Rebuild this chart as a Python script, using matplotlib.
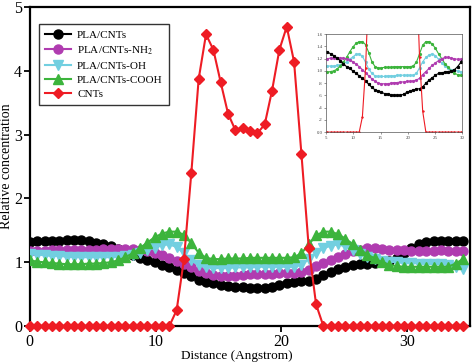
import numpy as np
import matplotlib.pyplot as plt

plt.rcParams['font.family'] = ['Liberation Serif', 'DejaVu Serif']
plt.rcParams['mathtext.fontset'] = 'stix'

# 60 sampling bins over 35 Angstrom
x = np.arange(60) * 35 / 60

pla_cnts = [1.32, 1.33, 1.33, 1.34, 1.34, 1.35, 1.35, 1.35, 1.33, 1.31,
            1.28, 1.25, 1.21, 1.17, 1.12, 1.07, 1.04, 1.00, 0.96, 0.92,
            0.88, 0.84, 0.78, 0.73, 0.69, 0.67, 0.65, 0.63, 0.62, 0.61,
            0.60, 0.60, 0.60, 0.62, 0.65, 0.67, 0.69, 0.70, 0.71, 0.74,
            0.80, 0.85, 0.89, 0.93, 0.96, 0.97, 0.98, 0.99, 1.00, 1.02,
            1.07, 1.14, 1.22, 1.29, 1.32, 1.33, 1.33, 1.33, 1.34, 1.34]

pla_nh2 = [1.18, 1.18, 1.18, 1.19, 1.19, 1.19, 1.20, 1.20, 1.20, 1.20,
           1.21, 1.21, 1.21, 1.21, 1.21, 1.20, 1.18, 1.15, 1.11, 1.07,
           1.02, 0.97, 0.92, 0.87, 0.83, 0.80, 0.79, 0.79, 0.79, 0.80,
           0.81, 0.81, 0.82, 0.82, 0.83, 0.83, 0.84, 0.85, 0.88, 0.94,
           0.99, 1.04, 1.09, 1.13, 1.17, 1.20, 1.22, 1.22, 1.21, 1.20,
           1.19, 1.19, 1.18, 1.18, 1.18, 1.18, 1.19, 1.18, 1.18, 1.18]

pla_oh = [1.13, 1.12, 1.11, 1.10, 1.10, 1.09, 1.08, 1.08, 1.08, 1.08,
          1.08, 1.08, 1.09, 1.10, 1.12, 1.15, 1.19, 1.23, 1.27, 1.28,
          1.24, 1.14, 1.03, 0.96, 0.92, 0.91, 0.91, 0.91, 0.92, 0.92,
          0.92, 0.93, 0.93, 0.93, 0.93, 0.93, 0.93, 0.96, 1.05, 1.15,
          1.22, 1.26, 1.28, 1.25, 1.19, 1.13, 1.08, 1.05, 1.02, 1.01,
          1.00, 0.99, 0.99, 0.98, 0.98, 0.97, 0.97, 0.96, 0.93, 0.90]

pla_cooh = [1.03, 1.01, 1.00, 0.99, 0.98, 0.97, 0.97, 0.97, 0.98, 0.98,
            0.99, 1.00, 1.03, 1.08, 1.14, 1.22, 1.31, 1.39, 1.45, 1.48,
            1.48, 1.43, 1.30, 1.15, 1.07, 1.05, 1.05, 1.06, 1.06, 1.06,
            1.07, 1.07, 1.07, 1.07, 1.07, 1.07, 1.08, 1.14, 1.28, 1.42,
            1.48, 1.48, 1.44, 1.37, 1.28, 1.20, 1.12, 1.06, 1.00, 0.96,
            0.94, 0.93, 0.93, 0.93, 0.93, 0.93, 0.93, 0.93, 0.98, 1.05]

cnts = [0.0] * 20 + [0.25, 1.05, 2.40, 3.87, 4.57, 4.33, 3.82, 3.33, 3.07, 3.10,
                     3.06, 3.02, 3.16, 3.69, 4.33, 4.69, 4.14, 2.70, 1.23, 0.34] + [0.0] * 20

series = [
    ('PLA/CNTs', pla_cnts, '#000000', 'o', 6.5),
    ('PLA/CNTs-NH$_2$', pla_nh2, '#b03cb0', 'o', 6.5),
    ('PLA/CNTs-OH', pla_oh, '#72cfe0', 'v', 6.5),
    ('PLA/CNTs-COOH', pla_cooh, '#3cb43c', '^', 6.5),
    ('CNTs', cnts, '#ee1c24', 'D', 5.5),
]
draw_order = [2, 3, 1, 0, 4]

fig = plt.figure(figsize=(4.74, 3.64), dpi=100)
ax = fig.add_axes([0.063, 0.104, 0.929, 0.877])

handles = [None] * 5
for k in draw_order:
    name, y, col, mk, ms = series[k]
    l, = ax.plot(x, y, color=col, marker=mk, ms=ms, lw=1.5, label=name,
                 clip_on=(k != 4), zorder=2 + k)
    handles[k] = l

ax.set_xlim(0, 35)
ax.set_ylim(0, 5)
ax.set_xticks([0, 10, 20, 30])
ax.set_yticks([0, 1, 2, 3, 4, 5])
for s in ax.spines.values():
    s.set_linewidth(1.6)
ax.tick_params(direction='out', length=4, width=1.3, labelsize=11.5, pad=1.5)
ax.set_xlabel('Distance (Angstrom)', fontsize=9.5, labelpad=0)
ax.xaxis.label.set_x(0.47)
ax.set_ylabel('Relative concentration', fontsize=10, labelpad=1)

leg = ax.legend(handles=handles, loc='upper left', bbox_to_anchor=(0.02, 0.948),
                fontsize=8, frameon=True, fancybox=False, edgecolor='black',
                borderpad=0.6, labelspacing=0.38, handlelength=2.3,
                handletextpad=0.55, borderaxespad=0)
leg.get_frame().set_linewidth(1.0)

# inset
ins = fig.add_axes([0.688, 0.637, 0.287, 0.269])
for k in draw_order:
    name, y, col, mk, ms = series[k]
    ins.plot(x, y, color=col, marker='s' if k == 0 else ('+' if k == 4 else 'o'),
             ms=1.3, lw=0.8)
ins.set_xlim(5, 30)
ins.set_ylim(0, 1.6)
ins.set_xticks([5, 10, 15, 20, 25, 30])
ins.set_yticks(np.arange(0, 1.61, 0.2))
ins.set_yticklabels(['0.0', '.2', '.4', '.6', '.8', '1.0', '1.2', '1.4', '1.6'])
ins.tick_params(labelsize=3.5, length=1.5, width=0.4, pad=1, colors='#444444')
for s in ins.spines.values():
    s.set_linewidth(0.5)
    s.set_color('#555555')

fig.savefig('out.png', dpi=100)
